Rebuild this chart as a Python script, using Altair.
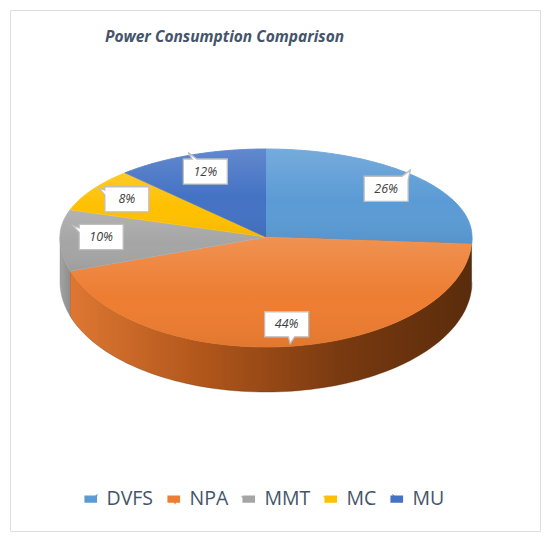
import altair as alt
import pandas as pd

# ---- data ----
categories = ["DVFS", "NPA", "MMT", "MC", "MU"]
values = [26, 44, 10, 8, 12]
colors = ["#5B9BD5", "#ED7D31", "#A5A5A5", "#FFC000", "#4472C4"]
title_text = "Power Consumption Comparison"

df = pd.DataFrame({"cat": categories, "value": values,
                   "order": list(range(len(categories)))})

# ---- layout / style constants ----
PAD = 2
W, H = 534 - 2 * PAD, 525 - 2 * PAD
CX, CY = 256, 227          # projected pie centre (px, inside view)
RX, RT, RB, DEPTH = 206, 88, 110, 45
N = 90                     # points per slice outline
KB = RB / RT
KD = DEPTH / RT
R_LAB = 0.8

side_grads = {
    "DVFS": ["#3A6E9E", "#2E5C88"],
    "NPA": ["#DE7732", "#B0561B", "#7A3A10", "#5A2C0C"],
    "MMT": ["#A3A3A3", "#8E8E8E"],
    "MC": ["#D9A300", "#B38600"],
    "MU": ["#3A62A8", "#2F4F8A"],
}

box_paths = [
    "M-1,-0.57 L0.72,-0.57 L1.1,-0.85 L1,-0.4 L1,0.57 L-1,0.57 Z",
    "M-1,-0.57 L1,-0.57 L1,0.57 L0.36,0.57 L0.16,0.88 L0.08,0.57 L-1,0.57 Z",
    "M-1,-0.57 L1,-0.57 L1,0.57 L-1,0.57 L-1,-0.2 L-1.28,-0.52 L-1,-0.42 Z",
    "M-1,-0.57 L1,-0.57 L1,0.57 L-1,0.57 L-1,-0.2 L-1.28,-0.52 L-1,-0.42 Z",
    "M-1,-0.57 L-0.6,-0.57 L-0.78,-0.86 L-0.38,-0.57 L1,-0.57 L1,0.57 L-1,0.57 Z",
]

xs = alt.X("px:Q", scale=alt.Scale(domain=[-1, 1], range=[CX - RX, CX + RX],
                                     nice=False, zero=False), axis=None)
ys = alt.Y("py:Q", scale=alt.Scale(domain=[-1, 1], range=[CY + RT, CY - RT],
                                     nice=False, zero=False), axis=None)

base = alt.Chart(df).transform_joinaggregate(
    total="sum(value)"
).transform_window(
    cum="sum(value)", sort=[alt.SortField("order")], frame=[None, 0]
).transform_calculate(
    start="(datum.cum - datum.value) / datum.total",
    end="datum.cum / datum.total",
)

# ---- side walls (front half only) ----
side_base = base.transform_calculate(
    s1="max(datum.start, 0.25)", s2="min(datum.end, 0.75)"
).transform_filter(
    "datum.s2 > datum.s1"
).transform_calculate(
    k=f"sequence(0, {2 * N + 2})"
).transform_flatten(["k"]).transform_calculate(
    lev=f"datum.k > {N} ? 1 : 0",
    t=(f"datum.k <= {N} ? datum.s1 + datum.k / {N} * (datum.s2 - datum.s1)"
       f" : datum.s2 - (datum.k - {N} - 1) / {N} * (datum.s2 - datum.s1)"),
).transform_calculate(
    px="sin(2 * PI * datum.t)",
    py=f"{KB} * cos(2 * PI * datum.t) - datum.lev * {KD}",
)

side_layers = []
for c in categories:
    stops = side_grads[c]
    grad = alt.LinearGradient(
        gradient="linear", x1=0, x2=1, y1=0, y2=0,
        stops=[alt.GradientStop(offset=i / (len(stops) - 1), color=s)
               for i, s in enumerate(stops)],
    )
    side_layers.append(
        side_base.transform_filter(alt.datum.cat == c)
        .mark_line(fill=grad, stroke=stops[-1], strokeWidth=0.6, strokeOpacity=0.6)
        .encode(x=xs, y=ys, order=alt.Order("k:Q"))
    )

# ---- top faces ----
top_base = base.transform_calculate(
    k=f"sequence(0, {N + 2})"
).transform_flatten(["k"]).transform_calculate(
    t=f"datum.start + (datum.k - 1) / {N} * (datum.end - datum.start)"
).transform_calculate(
    px="datum.k == 0 ? 0 : sin(2 * PI * datum.t)",
    py=(f"datum.k == 0 ? 0 : (cos(2 * PI * datum.t) > 0 ? cos(2 * PI * datum.t)"
        f" : {KB} * cos(2 * PI * datum.t))"),
)

top = top_base.mark_line(strokeWidth=0.8).encode(
    x=xs, y=ys, order=alt.Order("k:Q"),
    fill=alt.Fill("cat:N", scale=alt.Scale(domain=categories, range=colors),
                  legend=alt.Legend(
                      title=None, orient="none", legendX=71, legendY=479,
                      padding=0,
                      direction="horizontal", symbolType="square",
                      symbolSize=160, symbolStrokeWidth=0, symbolOpacity=1,
                      labelFont="Open Sans", labelFontSize=19.5,
                      labelColor="#44546A", labelOffset=6, columnPadding=10,
                  )),
    stroke=alt.Stroke("cat:N", scale=alt.Scale(domain=categories, range=colors),
                      legend=None),
)

# soft lighting on each top face (lighter at the top of each slice)
shade = alt.LinearGradient(
    gradient="linear", x1=0, x2=0, y1=0, y2=1,
    stops=[alt.GradientStop(offset=0, color="rgba(255,255,255,0.16)"),
           alt.GradientStop(offset=0.55, color="rgba(255,255,255,0.0)"),
           alt.GradientStop(offset=1, color="rgba(0,0,0,0.05)")],
)
top_shade = top_base.mark_line(fill=shade, strokeOpacity=0).encode(
    x=xs, y=ys, order=alt.Order("k:Q"), detail="cat:N",
)

# ---- data labels ----
lab = base.transform_calculate(
    mid="(datum.start + datum.end) / 2"
).transform_calculate(
    px=f"{R_LAB} * sin(2 * PI * datum.mid)",
    py=(f"{R_LAB} * (cos(2 * PI * datum.mid) > 0 ? 1 : {KB})"
        f" * cos(2 * PI * datum.mid)"),
    label="format(datum.value / datum.total, '.0%')",
)

boxes = lab.mark_point(filled=True, fill="white", stroke="#BFBFBF",
                       strokeWidth=1.3, size=22 * 22 * 4, opacity=1).encode(
    x=xs, y=ys,
    shape=alt.Shape("cat:N", scale=alt.Scale(domain=categories, range=box_paths),
                    legend=None),
)

texts = lab.mark_text(font="Open Sans", fontStyle="italic", fontSize=12.5,
                      color="#404040").encode(x=xs, y=ys, text="label:N")

chart = alt.layer(*side_layers, top, top_shade, boxes, texts).properties(
    width=W, height=H,
    autosize=alt.AutoSizeParams(type="none"),
    padding=PAD,
    title=alt.Title(title_text, anchor="start", frame="group", orient="top",
                    offset=0, dx=95, dy=47, font="Open Sans", fontSize=15.5,
                    fontStyle="italic", fontWeight="bold", color="#44546A",
                    baseline="alphabetic"),
).configure_view(stroke="#D9DEE5", strokeWidth=2).configure(background="white")

chart.save("out.html", embed_options={"renderer": "svg", "actions": False})
